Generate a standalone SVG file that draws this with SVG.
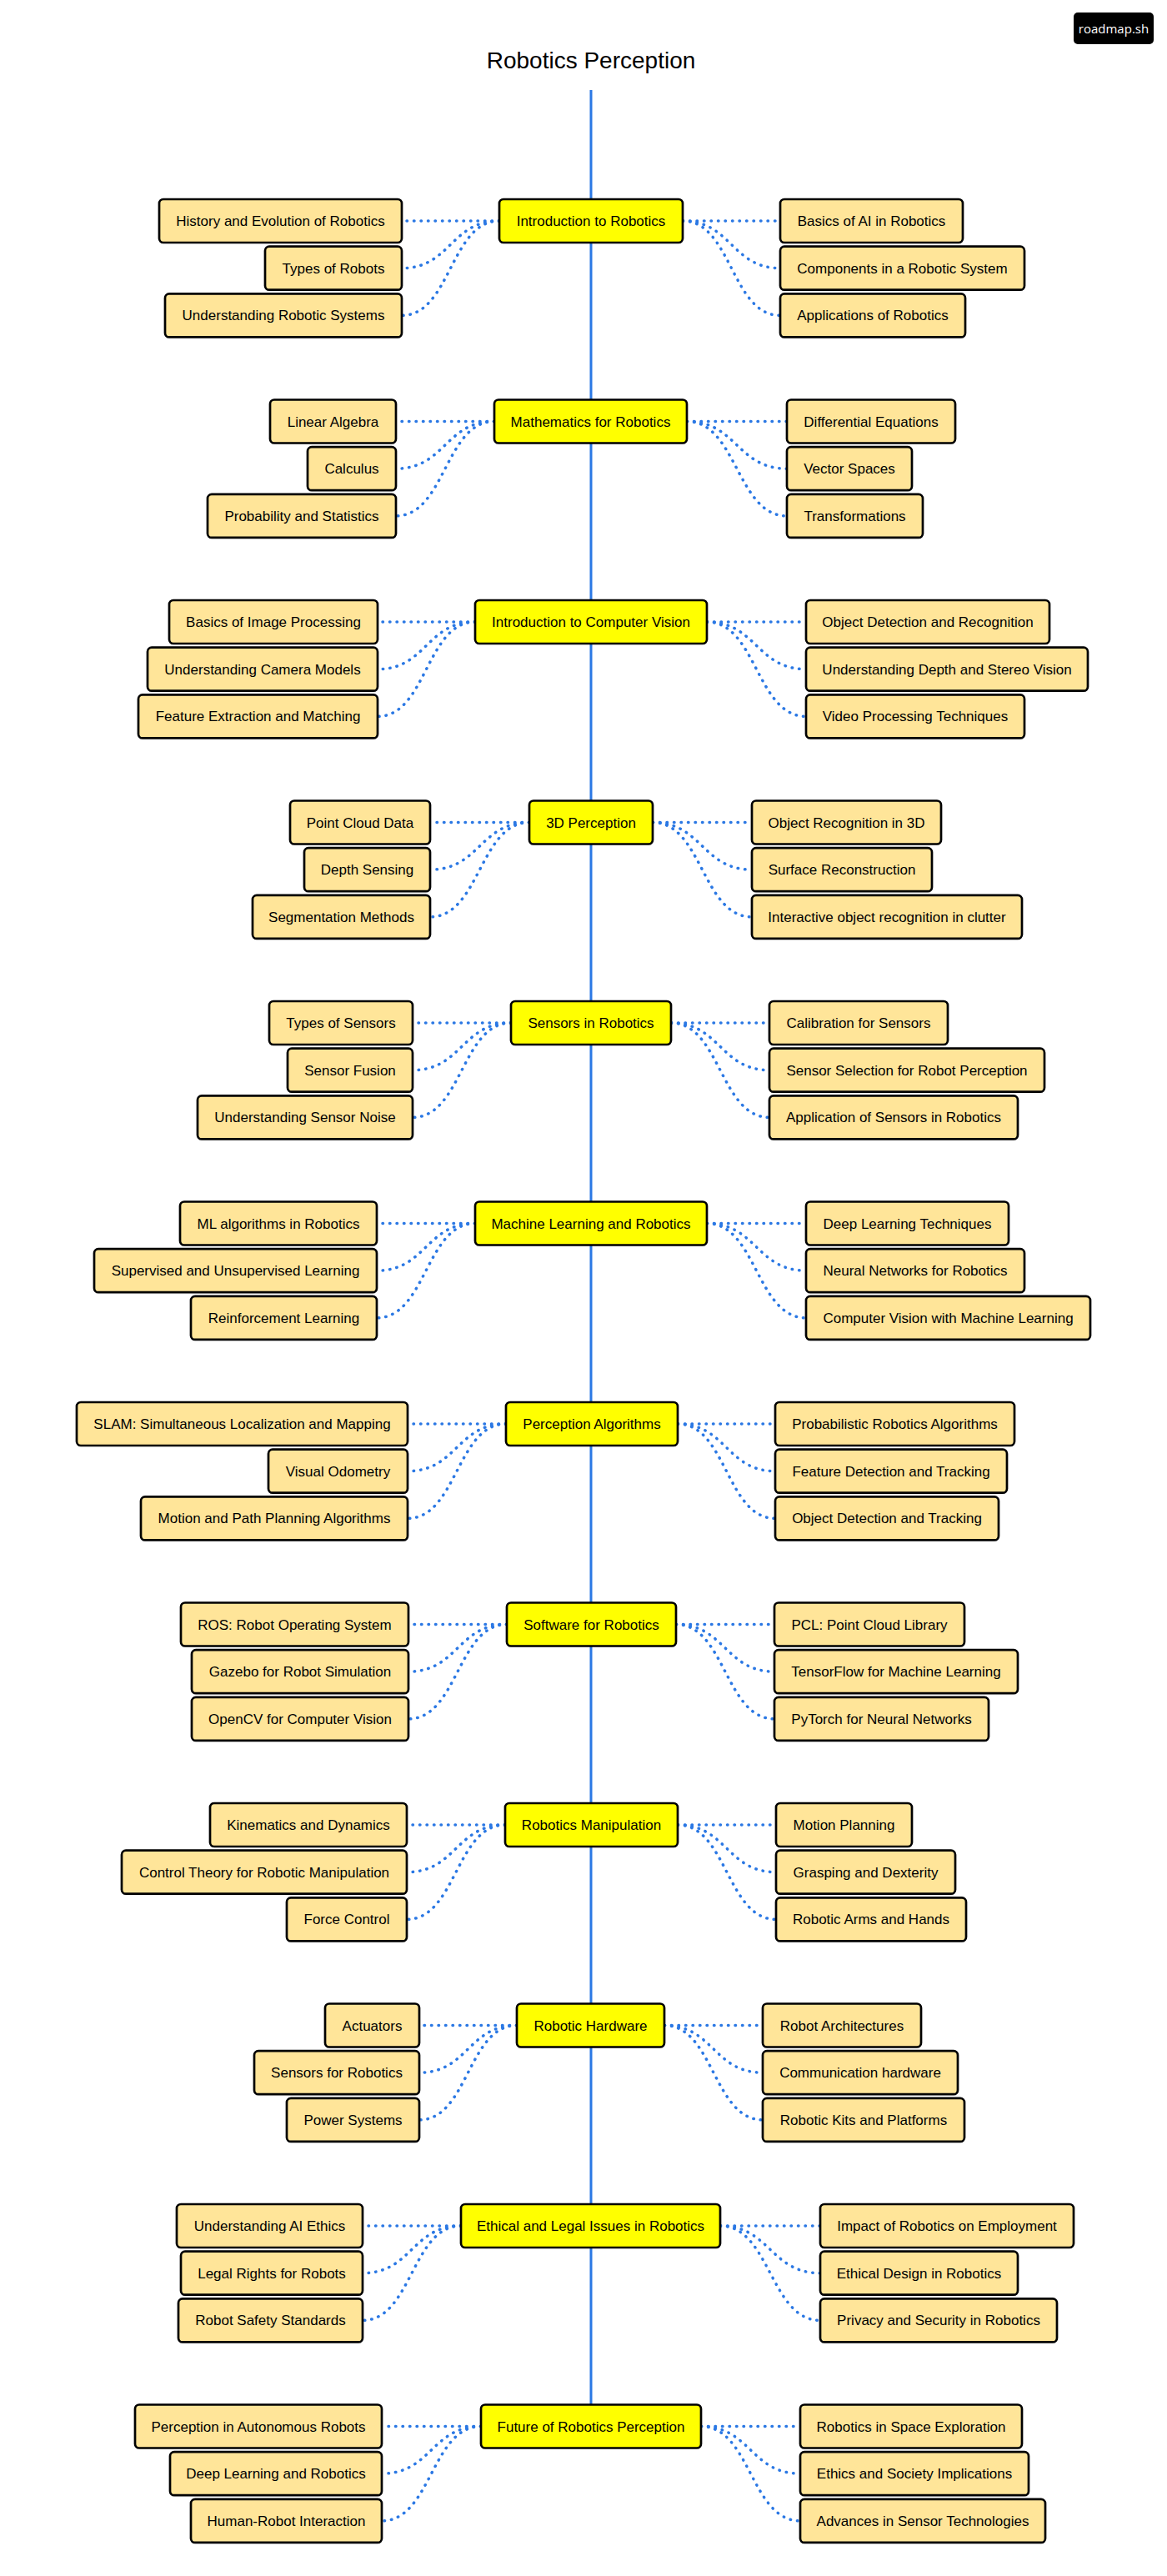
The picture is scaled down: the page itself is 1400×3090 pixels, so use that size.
<svg xmlns="http://www.w3.org/2000/svg" width="1400" height="3090" viewBox="0 0 1400 3090">
<style>
.m{fill:#ffff00;stroke:#000;stroke-width:2.7}
.c{fill:#ffe599;stroke:#000;stroke-width:2.7}
.t{font-family:"Liberation Sans",Arial,sans-serif;font-size:17px;fill:#000;text-anchor:middle}
.e path{fill:none;stroke:#2b78e4;stroke-width:3.5;stroke-linecap:round;stroke-dasharray:0.5 8}
.trunk{stroke:#2b78e4;stroke-width:3;fill:none}
</style>
<rect width="1400" height="3090" fill="#fff"/>
<g id="badge"><rect x="1288" y="15" width="96" height="38" rx="5" fill="#000"/><text x="1336" y="40" font-family="'Open Sans','Liberation Sans',sans-serif" font-size="15" fill="#fff" text-anchor="middle">roadmap.sh</text></g>
<g id="title"><text x="709" y="82" font-family="'Liberation Sans',Arial,sans-serif" font-size="28" fill="#000" text-anchor="middle">Robotics Perception</text></g>
<g id="trunk"><line class="trunk" x1="709" y1="108" x2="709" y2="2885"/></g>
<g id="connectors" class="e">
<g transform="translate(0,265)"><path d="M599 0H482"/><path d="M599 0C540.5 0 540.5 56.7 482 56.7"/><path d="M599 0C540.5 0 540.5 113.4 482 113.4"/><path d="M819 0H936"/><path d="M819 0C877.5 0 877.5 56.7 936 56.7"/><path d="M819 0C877.5 0 877.5 113.4 936 113.4"/></g>
<g transform="translate(0,505.5)"><path d="M593 0H475"/><path d="M593 0C534 0 534 56.7 475 56.7"/><path d="M593 0C534 0 534 113.4 475 113.4"/><path d="M824 0H944"/><path d="M824 0C884 0 884 56.7 944 56.7"/><path d="M824 0C884 0 884 113.4 944 113.4"/></g>
<g transform="translate(0,746)"><path d="M570 0H453"/><path d="M570 0C511.5 0 511.5 56.7 453 56.7"/><path d="M570 0C511.5 0 511.5 113.4 453 113.4"/><path d="M848 0H967"/><path d="M848 0C907.5 0 907.5 56.7 967 56.7"/><path d="M848 0C907.5 0 907.5 113.4 967 113.4"/></g>
<g transform="translate(0,986.5)"><path d="M635 0H516"/><path d="M635 0C575.5 0 575.5 56.7 516 56.7"/><path d="M635 0C575.5 0 575.5 113.4 516 113.4"/><path d="M783 0H902"/><path d="M783 0C842.5 0 842.5 56.7 902 56.7"/><path d="M783 0C842.5 0 842.5 113.4 902 113.4"/></g>
<g transform="translate(0,1227)"><path d="M613 0H495"/><path d="M613 0C554 0 554 56.7 495 56.7"/><path d="M613 0C554 0 554 113.4 495 113.4"/><path d="M805 0H923"/><path d="M805 0C864 0 864 56.7 923 56.7"/><path d="M805 0C864 0 864 113.4 923 113.4"/></g>
<g transform="translate(0,1467.5)"><path d="M570 0H452"/><path d="M570 0C511 0 511 56.7 452 56.7"/><path d="M570 0C511 0 511 113.4 452 113.4"/><path d="M848 0H967"/><path d="M848 0C907.5 0 907.5 56.7 967 56.7"/><path d="M848 0C907.5 0 907.5 113.4 967 113.4"/></g>
<g transform="translate(0,1708)"><path d="M607 0H489"/><path d="M607 0C548 0 548 56.7 489 56.7"/><path d="M607 0C548 0 548 113.4 489 113.4"/><path d="M813 0H930"/><path d="M813 0C871.5 0 871.5 56.7 930 56.7"/><path d="M813 0C871.5 0 871.5 113.4 930 113.4"/></g>
<g transform="translate(0,1948.5)"><path d="M608 0H490"/><path d="M608 0C549 0 549 56.7 490 56.7"/><path d="M608 0C549 0 549 113.4 490 113.4"/><path d="M811 0H929"/><path d="M811 0C870 0 870 56.7 929 56.7"/><path d="M811 0C870 0 870 113.4 929 113.4"/></g>
<g transform="translate(0,2189)"><path d="M606 0H488"/><path d="M606 0C547 0 547 56.7 488 56.7"/><path d="M606 0C547 0 547 113.4 488 113.4"/><path d="M813 0H931"/><path d="M813 0C872 0 872 56.7 931 56.7"/><path d="M813 0C872 0 872 113.4 931 113.4"/></g>
<g transform="translate(0,2429.5)"><path d="M620 0H503"/><path d="M620 0C561.5 0 561.5 56.7 503 56.7"/><path d="M620 0C561.5 0 561.5 113.4 503 113.4"/><path d="M797 0H915"/><path d="M797 0C856 0 856 56.7 915 56.7"/><path d="M797 0C856 0 856 113.4 915 113.4"/></g>
<g transform="translate(0,2670)"><path d="M553 0H435"/><path d="M553 0C494 0 494 56.7 435 56.7"/><path d="M553 0C494 0 494 113.4 435 113.4"/><path d="M864 0H984"/><path d="M864 0C924 0 924 56.7 984 56.7"/><path d="M864 0C924 0 924 113.4 984 113.4"/></g>
<g transform="translate(0,2910.5)"><path d="M577 0H458"/><path d="M577 0C517.5 0 517.5 56.7 458 56.7"/><path d="M577 0C517.5 0 517.5 113.4 458 113.4"/><path d="M841 0H960"/><path d="M841 0C900.5 0 900.5 56.7 960 56.7"/><path d="M841 0C900.5 0 900.5 113.4 960 113.4"/></g>
</g>

<g id="sec-intro-robotics" transform="translate(0,265)">
<g id="intro-robotics"><rect class="m" x="599" y="-26" width="220" height="52" rx="5"/><text class="t" x="709" y="6">Introduction to Robotics</text></g>
<g id="history-evolution"><rect class="c" x="191" y="-26" width="291" height="52" rx="5"/><text class="t" x="336.5" y="6">History and Evolution of Robotics</text></g>
<g id="types-of-robots"><rect class="c" x="318" y="30.7" width="164" height="52" rx="5"/><text class="t" x="400" y="62.7">Types of Robots</text></g>
<g id="understanding-robotic-systems"><rect class="c" x="198" y="87.4" width="284" height="52" rx="5"/><text class="t" x="340" y="119.4">Understanding Robotic Systems</text></g>
<g id="basics-ai"><rect class="c" x="936" y="-26" width="219" height="52" rx="5"/><text class="t" x="1045.5" y="6">Basics of AI in Robotics</text></g>
<g id="components"><rect class="c" x="936" y="30.7" width="293" height="52" rx="5"/><text class="t" x="1082.5" y="62.7">Components in a Robotic System</text></g>
<g id="applications"><rect class="c" x="936" y="87.4" width="222" height="52" rx="5"/><text class="t" x="1047" y="119.4">Applications of Robotics</text></g>
</g>

<g id="sec-math" transform="translate(0,505.5)">
<g id="math-robotics"><rect class="m" x="593" y="-26" width="231" height="52" rx="5"/><text class="t" x="708.5" y="6">Mathematics for Robotics</text></g>
<g id="linear-algebra"><rect class="c" x="324" y="-26" width="151" height="52" rx="5"/><text class="t" x="399.5" y="6">Linear Algebra</text></g>
<g id="calculus"><rect class="c" x="369" y="30.7" width="106" height="52" rx="5"/><text class="t" x="422" y="62.7">Calculus</text></g>
<g id="probability"><rect class="c" x="249" y="87.4" width="226" height="52" rx="5"/><text class="t" x="362" y="119.4">Probability and Statistics</text></g>
<g id="differential-eq"><rect class="c" x="944" y="-26" width="202" height="52" rx="5"/><text class="t" x="1045" y="6">Differential Equations</text></g>
<g id="vector-spaces"><rect class="c" x="944" y="30.7" width="150" height="52" rx="5"/><text class="t" x="1019" y="62.7">Vector Spaces</text></g>
<g id="transformations"><rect class="c" x="944" y="87.4" width="163" height="52" rx="5"/><text class="t" x="1025.5" y="119.4">Transformations</text></g>
</g>

<g id="sec-cv" transform="translate(0,746)">
<g id="intro-cv"><rect class="m" x="570" y="-26" width="278" height="52" rx="5"/><text class="t" x="709" y="6">Introduction to Computer Vision</text></g>
<g id="image-processing"><rect class="c" x="203" y="-26" width="250" height="52" rx="5"/><text class="t" x="328" y="6">Basics of Image Processing</text></g>
<g id="camera-models"><rect class="c" x="177" y="30.7" width="276" height="52" rx="5"/><text class="t" x="315" y="62.7">Understanding Camera Models</text></g>
<g id="feature-extraction"><rect class="c" x="166" y="87.4" width="287" height="52" rx="5"/><text class="t" x="309.5" y="119.4">Feature Extraction and Matching</text></g>
<g id="object-detection-recognition"><rect class="c" x="967" y="-26" width="292" height="52" rx="5"/><text class="t" x="1113" y="6">Object Detection and Recognition</text></g>
<g id="depth-stereo"><rect class="c" x="967" y="30.7" width="338" height="52" rx="5"/><text class="t" x="1136" y="62.7">Understanding Depth and Stereo Vision</text></g>
<g id="video-processing"><rect class="c" x="967" y="87.4" width="262" height="52" rx="5"/><text class="t" x="1098" y="119.4">Video Processing Techniques</text></g>
</g>

<g id="sec-3d" transform="translate(0,986.5)">
<g id="perception-3d"><rect class="m" x="635" y="-26" width="148" height="52" rx="5"/><text class="t" x="709" y="6">3D Perception</text></g>
<g id="point-cloud"><rect class="c" x="348" y="-26" width="168" height="52" rx="5"/><text class="t" x="432" y="6">Point Cloud Data</text></g>
<g id="depth-sensing"><rect class="c" x="365" y="30.7" width="151" height="52" rx="5"/><text class="t" x="440.5" y="62.7">Depth Sensing</text></g>
<g id="segmentation"><rect class="c" x="303" y="87.4" width="213" height="52" rx="5"/><text class="t" x="409.5" y="119.4">Segmentation Methods</text></g>
<g id="object-recognition-3d"><rect class="c" x="902" y="-26" width="227" height="52" rx="5"/><text class="t" x="1015.5" y="6">Object Recognition in 3D</text></g>
<g id="surface-reconstruction"><rect class="c" x="902" y="30.7" width="216" height="52" rx="5"/><text class="t" x="1010" y="62.7">Surface Reconstruction</text></g>
<g id="interactive-recognition"><rect class="c" x="902" y="87.4" width="324" height="52" rx="5"/><text class="t" x="1064" y="119.4">Interactive object recognition in clutter</text></g>
</g>

<g id="sec-sensors" transform="translate(0,1227)">
<g id="sensors-robotics"><rect class="m" x="613" y="-26" width="192" height="52" rx="5"/><text class="t" x="709" y="6">Sensors in Robotics</text></g>
<g id="types-sensors"><rect class="c" x="323" y="-26" width="172" height="52" rx="5"/><text class="t" x="409" y="6">Types of Sensors</text></g>
<g id="sensor-fusion"><rect class="c" x="345" y="30.7" width="150" height="52" rx="5"/><text class="t" x="420" y="62.7">Sensor Fusion</text></g>
<g id="sensor-noise"><rect class="c" x="237" y="87.4" width="258" height="52" rx="5"/><text class="t" x="366" y="119.4">Understanding Sensor Noise</text></g>
<g id="calibration"><rect class="c" x="923" y="-26" width="214" height="52" rx="5"/><text class="t" x="1030" y="6">Calibration for Sensors</text></g>
<g id="sensor-selection"><rect class="c" x="923" y="30.7" width="330" height="52" rx="5"/><text class="t" x="1088" y="62.7">Sensor Selection for Robot Perception</text></g>
<g id="sensor-application"><rect class="c" x="923" y="87.4" width="298" height="52" rx="5"/><text class="t" x="1072" y="119.4">Application of Sensors in Robotics</text></g>
</g>

<g id="sec-ml" transform="translate(0,1467.5)">
<g id="ml-robotics"><rect class="m" x="570" y="-26" width="278" height="52" rx="5"/><text class="t" x="709" y="6">Machine Learning and Robotics</text></g>
<g id="ml-algorithms"><rect class="c" x="216" y="-26" width="236" height="52" rx="5"/><text class="t" x="334" y="6">ML algorithms in Robotics</text></g>
<g id="supervised"><rect class="c" x="113" y="30.7" width="339" height="52" rx="5"/><text class="t" x="282.5" y="62.7">Supervised and Unsupervised Learning</text></g>
<g id="reinforcement"><rect class="c" x="229" y="87.4" width="223" height="52" rx="5"/><text class="t" x="340.5" y="119.4">Reinforcement Learning</text></g>
<g id="deep-learning-tech"><rect class="c" x="967" y="-26" width="243" height="52" rx="5"/><text class="t" x="1088.5" y="6">Deep Learning Techniques</text></g>
<g id="neural-networks"><rect class="c" x="967" y="30.7" width="262" height="52" rx="5"/><text class="t" x="1098" y="62.7">Neural Networks for Robotics</text></g>
<g id="cv-ml"><rect class="c" x="967" y="87.4" width="341" height="52" rx="5"/><text class="t" x="1137.5" y="119.4">Computer Vision with Machine Learning</text></g>
</g>

<g id="sec-perception-alg" transform="translate(0,1708)">
<g id="perception-algorithms"><rect class="m" x="607" y="-26" width="206" height="52" rx="5"/><text class="t" x="710" y="6">Perception Algorithms</text></g>
<g id="slam"><rect class="c" x="92" y="-26" width="397" height="52" rx="5"/><text class="t" x="290.5" y="6">SLAM: Simultaneous Localization and Mapping</text></g>
<g id="visual-odometry"><rect class="c" x="322" y="30.7" width="167" height="52" rx="5"/><text class="t" x="405.5" y="62.7">Visual Odometry</text></g>
<g id="path-planning"><rect class="c" x="169" y="87.4" width="320" height="52" rx="5"/><text class="t" x="329" y="119.4">Motion and Path Planning Algorithms</text></g>
<g id="probabilistic"><rect class="c" x="930" y="-26" width="287" height="52" rx="5"/><text class="t" x="1073.5" y="6">Probabilistic Robotics Algorithms</text></g>
<g id="feature-tracking"><rect class="c" x="930" y="30.7" width="278" height="52" rx="5"/><text class="t" x="1069" y="62.7">Feature Detection and Tracking</text></g>
<g id="object-tracking"><rect class="c" x="930" y="87.4" width="268" height="52" rx="5"/><text class="t" x="1064" y="119.4">Object Detection and Tracking</text></g>
</g>

<g id="sec-software" transform="translate(0,1948.5)">
<g id="software-robotics"><rect class="m" x="608" y="-26" width="203" height="52" rx="5"/><text class="t" x="709.5" y="6">Software for Robotics</text></g>
<g id="ros"><rect class="c" x="217" y="-26" width="273" height="52" rx="5"/><text class="t" x="353.5" y="6">ROS: Robot Operating System</text></g>
<g id="gazebo"><rect class="c" x="230" y="30.7" width="260" height="52" rx="5"/><text class="t" x="360" y="62.7">Gazebo for Robot Simulation</text></g>
<g id="opencv"><rect class="c" x="230" y="87.4" width="260" height="52" rx="5"/><text class="t" x="360" y="119.4">OpenCV for Computer Vision</text></g>
<g id="pcl"><rect class="c" x="929" y="-26" width="228" height="52" rx="5"/><text class="t" x="1043" y="6">PCL: Point Cloud Library</text></g>
<g id="tensorflow"><rect class="c" x="929" y="30.7" width="292" height="52" rx="5"/><text class="t" x="1075" y="62.7">TensorFlow for Machine Learning</text></g>
<g id="pytorch"><rect class="c" x="929" y="87.4" width="257" height="52" rx="5"/><text class="t" x="1057.5" y="119.4">PyTorch for Neural Networks</text></g>
</g>

<g id="sec-manipulation" transform="translate(0,2189)">
<g id="robotics-manipulation"><rect class="m" x="606" y="-26" width="207" height="52" rx="5"/><text class="t" x="709.5" y="6">Robotics Manipulation</text></g>
<g id="kinematics"><rect class="c" x="252" y="-26" width="236" height="52" rx="5"/><text class="t" x="370" y="6">Kinematics and Dynamics</text></g>
<g id="control-theory"><rect class="c" x="146" y="30.7" width="342" height="52" rx="5"/><text class="t" x="317" y="62.7">Control Theory for Robotic Manipulation</text></g>
<g id="force-control"><rect class="c" x="344" y="87.4" width="144" height="52" rx="5"/><text class="t" x="416" y="119.4">Force Control</text></g>
<g id="motion-planning"><rect class="c" x="931" y="-26" width="163" height="52" rx="5"/><text class="t" x="1012.5" y="6">Motion Planning</text></g>
<g id="grasping"><rect class="c" x="931" y="30.7" width="215" height="52" rx="5"/><text class="t" x="1038.5" y="62.7">Grasping and Dexterity</text></g>
<g id="robotic-arms"><rect class="c" x="931" y="87.4" width="228" height="52" rx="5"/><text class="t" x="1045" y="119.4">Robotic Arms and Hands</text></g>
</g>

<g id="sec-hardware" transform="translate(0,2429.5)">
<g id="robotic-hardware"><rect class="m" x="620" y="-26" width="177" height="52" rx="5"/><text class="t" x="708.5" y="6">Robotic Hardware</text></g>
<g id="actuators"><rect class="c" x="390" y="-26" width="113" height="52" rx="5"/><text class="t" x="446.5" y="6">Actuators</text></g>
<g id="sensors-for-robotics"><rect class="c" x="305" y="30.7" width="198" height="52" rx="5"/><text class="t" x="404" y="62.7">Sensors for Robotics</text></g>
<g id="power-systems"><rect class="c" x="344" y="87.4" width="159" height="52" rx="5"/><text class="t" x="423.5" y="119.4">Power Systems</text></g>
<g id="robot-architectures"><rect class="c" x="915" y="-26" width="190" height="52" rx="5"/><text class="t" x="1010" y="6">Robot Architectures</text></g>
<g id="communication-hardware"><rect class="c" x="915" y="30.7" width="234" height="52" rx="5"/><text class="t" x="1032" y="62.7">Communication hardware</text></g>
<g id="robotic-kits"><rect class="c" x="915" y="87.4" width="242" height="52" rx="5"/><text class="t" x="1036" y="119.4">Robotic Kits and Platforms</text></g>
</g>

<g id="sec-ethics" transform="translate(0,2670)">
<g id="ethical-legal"><rect class="m" x="553" y="-26" width="311" height="52" rx="5"/><text class="t" x="708.5" y="6">Ethical and Legal Issues in Robotics</text></g>
<g id="ai-ethics"><rect class="c" x="212" y="-26" width="223" height="52" rx="5"/><text class="t" x="323.5" y="6">Understanding AI Ethics</text></g>
<g id="legal-rights"><rect class="c" x="217" y="30.7" width="218" height="52" rx="5"/><text class="t" x="326" y="62.7">Legal Rights for Robots</text></g>
<g id="safety-standards"><rect class="c" x="214" y="87.4" width="221" height="52" rx="5"/><text class="t" x="324.5" y="119.4">Robot Safety Standards</text></g>
<g id="impact-employment"><rect class="c" x="984" y="-26" width="304" height="52" rx="5"/><text class="t" x="1136" y="6">Impact of Robotics on Employment</text></g>
<g id="ethical-design"><rect class="c" x="984" y="30.7" width="237" height="52" rx="5"/><text class="t" x="1102.5" y="62.7">Ethical Design in Robotics</text></g>
<g id="privacy-security"><rect class="c" x="984" y="87.4" width="284" height="52" rx="5"/><text class="t" x="1126" y="119.4">Privacy and Security in Robotics</text></g>
</g>

<g id="sec-future" transform="translate(0,2910.5)">
<g id="future-perception"><rect class="m" x="577" y="-26" width="264" height="52" rx="5"/><text class="t" x="709" y="6">Future of Robotics Perception</text></g>
<g id="autonomous-robots"><rect class="c" x="162" y="-26" width="296" height="52" rx="5"/><text class="t" x="310" y="6">Perception in Autonomous Robots</text></g>
<g id="deep-learning-robotics"><rect class="c" x="204" y="30.7" width="254" height="52" rx="5"/><text class="t" x="331" y="62.7">Deep Learning and Robotics</text></g>
<g id="human-robot"><rect class="c" x="229" y="87.4" width="229" height="52" rx="5"/><text class="t" x="343.5" y="119.4">Human-Robot Interaction</text></g>
<g id="space-exploration"><rect class="c" x="960" y="-26" width="266" height="52" rx="5"/><text class="t" x="1093" y="6">Robotics in Space Exploration</text></g>
<g id="ethics-society"><rect class="c" x="960" y="30.7" width="274" height="52" rx="5"/><text class="t" x="1097" y="62.7">Ethics and Society Implications</text></g>
<g id="sensor-advances"><rect class="c" x="960" y="87.4" width="294" height="52" rx="5"/><text class="t" x="1107" y="119.4">Advances in Sensor Technologies</text></g>
</g>
</svg>
